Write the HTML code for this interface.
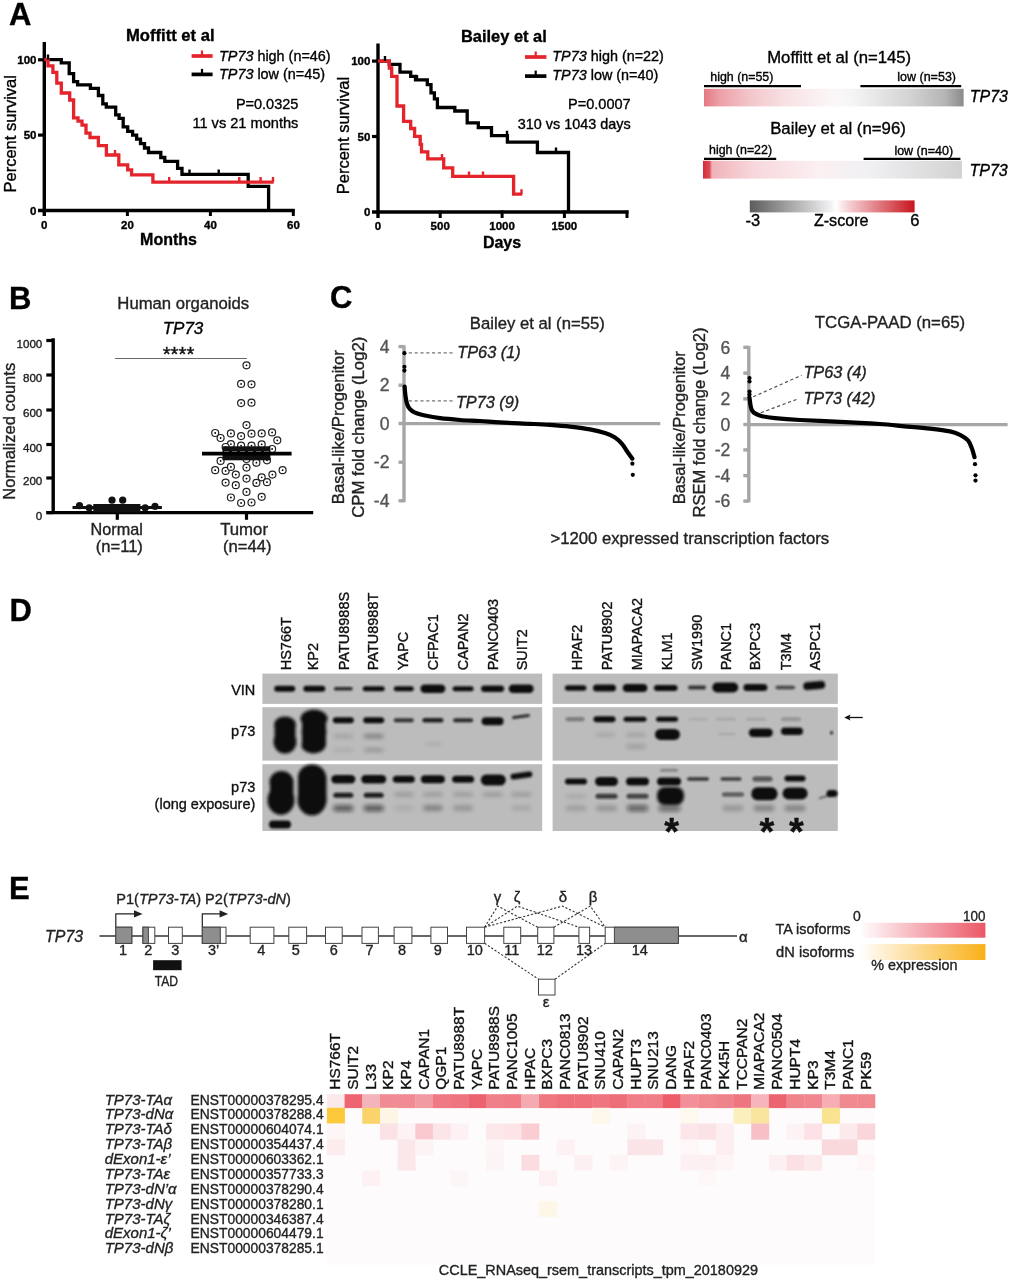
<!DOCTYPE html>
<html><head><meta charset="utf-8"><style>
html,body{margin:0;padding:0;background:#fff;}
svg{display:block;}
text{stroke-width:0.35px;}
</style></head><body>
<svg width="1011" height="1280" viewBox="0 0 1011 1280" style="font-family:'Liberation Sans',Arial,sans-serif">
<rect width="1011" height="1280" fill="#fff"/>
<text x="9" y="24.5" font-size="31" font-weight="bold" stroke="#000">A</text>
<path d="M44.3,42V216M38,210.5H294.5" stroke="#000" stroke-width="3.4" fill="none"/>
<path d="M38,59.8H44.3" stroke="#000" stroke-width="3.2"/>
<path d="M38,135.1H44.3" stroke="#000" stroke-width="3.2"/>
<path d="M127.4,209V216" stroke="#000" stroke-width="3"/>
<path d="M210.4,209V216" stroke="#000" stroke-width="3"/>
<path d="M293.3,209V216" stroke="#000" stroke-width="3"/>
<text x="36.5" y="64" font-size="11.5" text-anchor="end" font-weight="bold" stroke="#000">100</text>
<text x="36.5" y="139.3" font-size="11.5" text-anchor="end" font-weight="bold" stroke="#000">50</text>
<text x="36.5" y="214.7" font-size="11.5" text-anchor="end" font-weight="bold" stroke="#000">0</text>
<text x="44.3" y="228.6" font-size="11.5" text-anchor="middle" font-weight="bold" stroke="#000">0</text>
<text x="127.4" y="228.6" font-size="11.5" text-anchor="middle" font-weight="bold" stroke="#000">20</text>
<text x="210.4" y="228.6" font-size="11.5" text-anchor="middle" font-weight="bold" stroke="#000">40</text>
<text x="293.5" y="228.6" font-size="11.5" text-anchor="middle" font-weight="bold" stroke="#000">60</text>
<text x="168.5" y="245" font-size="16" text-anchor="middle" font-weight="bold" stroke="#000">Months</text>
<text transform="translate(15.6,133.8) rotate(-90)" font-size="16.5" text-anchor="middle" stroke="#000">Percent survival</text>
<text x="126" y="40.8" font-size="16.5" font-weight="bold" textLength="88.6" lengthAdjust="spacingAndGlyphs" stroke="#000">Moffitt et al</text>
<path d="M191.6,56H212.6" stroke="#e4232b" stroke-width="3.7"/><path d="M202,56V50.5" stroke="#e4232b" stroke-width="2.2"/>
<path d="M191.6,74.4H212.6" stroke="#000" stroke-width="3.7"/><path d="M202,74.4V68.9" stroke="#000" stroke-width="2.2"/>
<text x="219" y="60.6" font-size="14.4" stroke="#000"><tspan font-style="italic">TP73</tspan> high (n=46)</text>
<text x="219" y="79.2" font-size="14.4" stroke="#000"><tspan font-style="italic">TP73</tspan> low (n=45)</text>
<text x="298.4" y="108.6" font-size="14.5" text-anchor="end" stroke="#000">P=0.0325</text>
<text x="298.4" y="127.8" font-size="14.6" text-anchor="end" stroke="#000">11 vs 21 months</text>
<path d="M44.3,59.6H61.3V62.9H69.2V73.7H73.6V81.6H77.6V84.8H90.4V88.4H98.4V95.5H102.8V103.9H106.3V107.2H115.7V114.8H119.1V118.3H123.2V126.8H127.7V131.3H132.6V135.2H136.6V139.2H140.5V143.6H144.5V148H148.5V152.5H160.8V157.5H164.8V161.4H177.6V168.4H182V174.4H248.2V186.3H268.6V210.5" stroke="#000" stroke-width="3.3" fill="none"/>
<path d="M44.3,59.6H48V65.8H52.9V72.3H56.8V83.1H61.3V93H69.7V100H73.6V117.8H78V121.2H82V125.2H86V133.1H90V137.5H98.4V145.6H106.4V155H118.8V164.9H127.7V169.8H131.6V174.8H152.9V182.1H273.7" stroke="#e4232b" stroke-width="3.3" fill="none"/>
<path d="M48,59.6v-5M189.5,174.4v-5M218.7,174.4v-5" stroke="#000" stroke-width="2.4"/>
<path d="M115,155v-5M169.2,182.1v-5M239.3,182.1v-5M260.6,182.1v-5M273,182.1v-5" stroke="#e4232b" stroke-width="2.4"/>
<path d="M378,43.6V218M372,212H628.5" stroke="#000" stroke-width="3.4" fill="none"/>
<path d="M372,61.1H378" stroke="#000" stroke-width="3.2"/>
<path d="M372,136.5H378" stroke="#000" stroke-width="3.2"/>
<path d="M440.2,210.5V218" stroke="#000" stroke-width="3"/>
<path d="M502.1,210.5V218" stroke="#000" stroke-width="3"/>
<path d="M564.4,210.5V218" stroke="#000" stroke-width="3"/>
<path d="M627,210.5V218" stroke="#000" stroke-width="3"/>
<text x="370.4" y="65.3" font-size="11.5" text-anchor="end" font-weight="bold" stroke="#000">100</text>
<text x="370.4" y="140.7" font-size="11.5" text-anchor="end" font-weight="bold" stroke="#000">50</text>
<text x="370.4" y="216.2" font-size="11.5" text-anchor="end" font-weight="bold" stroke="#000">0</text>
<text x="378" y="229.6" font-size="11.5" text-anchor="middle" font-weight="bold" stroke="#000">0</text>
<text x="440.2" y="229.6" font-size="11.5" text-anchor="middle" font-weight="bold" stroke="#000">500</text>
<text x="502.1" y="229.6" font-size="11.5" text-anchor="middle" font-weight="bold" stroke="#000">1000</text>
<text x="564.4" y="229.6" font-size="11.5" text-anchor="middle" font-weight="bold" stroke="#000">1500</text>
<text x="502" y="247.5" font-size="16" text-anchor="middle" font-weight="bold" stroke="#000">Days</text>
<text transform="translate(348.5,135.6) rotate(-90)" font-size="16.5" text-anchor="middle" stroke="#000">Percent survival</text>
<text x="460.9" y="41.8" font-size="16.5" font-weight="bold" textLength="85.9" lengthAdjust="spacingAndGlyphs" stroke="#000">Bailey et al</text>
<path d="M525,57H546.4" stroke="#e4232b" stroke-width="3.7"/><path d="M535.7,57V51.5" stroke="#e4232b" stroke-width="2.2"/>
<path d="M525,76.1H546.4" stroke="#000" stroke-width="3.7"/><path d="M535.7,76.1V70.6" stroke="#000" stroke-width="2.2"/>
<text x="552.3" y="61.3" font-size="14.4" stroke="#000"><tspan font-style="italic">TP73</tspan> high (n=22)</text>
<text x="552.3" y="80.3" font-size="14.4" stroke="#000"><tspan font-style="italic">TP73</tspan> low (n=40)</text>
<text x="630.6" y="109.2" font-size="14.5" text-anchor="end" stroke="#000">P=0.0007</text>
<text x="630.6" y="128.6" font-size="14.4" text-anchor="end" stroke="#000">310 vs 1043 days</text>
<path d="M378,61.1H389.3V64.4H400V72.1H410.7V76.3H415.5V79.9H427.3V84.6H431V92.9H434.4V98.8H437.4V107.5H454.8V111H467.2V122.9H478.3V127.7H491.5V135.7H507.4V142.2H537.4V152.5H568.5V212" stroke="#000" stroke-width="3.3" fill="none"/>
<path d="M378,61.1H389.3V68H391.7V76.3H397V106H403.6V121.4H410.7V128.5H414.6V136.3H420.2V144.3H421.5V151.9H427.8V158.9H443.7V167.9H452.7V176.4H513.6V194.2H522.2" stroke="#e4232b" stroke-width="3.3" fill="none"/>
<path d="M385,61.1v-5M417,79.9v-5M507,135.7v-5M556,152.5v-5" stroke="#000" stroke-width="2.4"/>
<path d="M442,158.9v-5M469,176.4v-5M483,176.4v-5M521.5,194.2v-5" stroke="#e4232b" stroke-width="2.4"/>
<defs><linearGradient id="g1" x1="0" x2="1"><stop offset="0" stop-color="#e47882"/><stop offset="0.06" stop-color="#eca0a8"/><stop offset="0.18" stop-color="#f3c6cb"/><stop offset="0.32" stop-color="#f8e2e5"/><stop offset="0.5" stop-color="#fbf7f8"/><stop offset="0.56" stop-color="#f6f6f7"/><stop offset="0.65" stop-color="#e9e9ea"/><stop offset="0.8" stop-color="#d2d2d2"/><stop offset="0.93" stop-color="#b4b4b4"/><stop offset="1" stop-color="#8a8a8a"/></linearGradient><linearGradient id="g2" x1="0" x2="1"><stop offset="0" stop-color="#d42d3a"/><stop offset="0.025" stop-color="#dc4a55"/><stop offset="0.035" stop-color="#f0b3b9"/><stop offset="0.2" stop-color="#f7d8dc"/><stop offset="0.45" stop-color="#fbf0f2"/><stop offset="0.65" stop-color="#f0f0f3"/><stop offset="1" stop-color="#d2d2d2"/></linearGradient><linearGradient id="g3" x1="0" x2="1"><stop offset="0" stop-color="#5c5c5c"/><stop offset="0.5" stop-color="#f4f4f6"/><stop offset="0.52" stop-color="#ffffff"/><stop offset="0.6" stop-color="#f5d0d3"/><stop offset="1" stop-color="#c8141e"/></linearGradient></defs>
<text x="839.2" y="63.3" font-size="16.7" text-anchor="middle" stroke="#000">Moffitt et al (n=145)</text>
<text x="710.3" y="80.6" font-size="12.4" stroke="#000">high (n=55)</text>
<text x="956" y="80.6" font-size="12.5" text-anchor="end" stroke="#000">low (n=53)</text>
<path d="M704,86.1H801M860.4,86.1H961.2" stroke="#000" stroke-width="2.2"/>
<rect x="704" y="88.8" width="259.6" height="17.6" fill="url(#g1)"/>
<text x="969.8" y="101.9" font-size="16" font-style="italic" textLength="38.2" lengthAdjust="spacingAndGlyphs" stroke="#000">TP73</text>
<text x="838" y="134" font-size="16.8" text-anchor="middle" stroke="#000">Bailey et al (n=96)</text>
<text x="709" y="153.6" font-size="12.4" stroke="#000">high (n=22)</text>
<text x="953.1" y="155.4" font-size="12.5" text-anchor="end" stroke="#000">low (n=40)</text>
<path d="M704,158.8H776.2M863.6,158.8H960.4" stroke="#000" stroke-width="2.2"/>
<rect x="703" y="160.8" width="259" height="17.8" fill="url(#g2)"/>
<text x="969.4" y="175.8" font-size="16" font-style="italic" textLength="38.4" lengthAdjust="spacingAndGlyphs" stroke="#000">TP73</text>
<rect x="749.8" y="200.4" width="164.8" height="12" fill="url(#g3)"/>
<text x="745.5" y="225.8" font-size="16.5" stroke="#000">-3</text>
<text x="841.2" y="225.8" font-size="16.1" text-anchor="middle" stroke="#000">Z-score</text>
<text x="919.5" y="225.8" font-size="16.5" text-anchor="end" stroke="#000">6</text>
<text x="9" y="308.5" font-size="31" font-weight="bold" stroke="#000">B</text>
<text x="183.2" y="308.6" font-size="16.7" text-anchor="middle" fill="#222" stroke="#222">Human organoids</text>
<text x="183" y="333.8" font-size="17" text-anchor="middle" font-style="italic" textLength="40.7" lengthAdjust="spacingAndGlyphs" stroke="#000">TP73</text>
<path d="M53.2,338.2V514.3M46.5,512.6H313.2" stroke="#000" stroke-width="3.4" fill="none"/>
<path d="M46.3,340.5H53" stroke="#000" stroke-width="3.2"/>
<text x="42.3" y="347.5" font-size="11.6" text-anchor="end" fill="#222" stroke="#222">1000</text>
<path d="M46.3,375H53" stroke="#000" stroke-width="3.2"/>
<text x="42.3" y="382" font-size="11.6" text-anchor="end" fill="#222" stroke="#222">800</text>
<path d="M46.3,410H53" stroke="#000" stroke-width="3.2"/>
<text x="42.3" y="417" font-size="11.6" text-anchor="end" fill="#222" stroke="#222">600</text>
<path d="M46.3,444.5H53" stroke="#000" stroke-width="3.2"/>
<text x="42.3" y="451.5" font-size="11.6" text-anchor="end" fill="#222" stroke="#222">400</text>
<path d="M46.3,478H53" stroke="#000" stroke-width="3.2"/>
<text x="42.3" y="485" font-size="11.6" text-anchor="end" fill="#222" stroke="#222">200</text>
<path d="M46.3,512.6H53" stroke="#000" stroke-width="3.2"/>
<text x="42.3" y="519.6" font-size="11.6" text-anchor="end" fill="#222" stroke="#222">0</text>
<path d="M117.3,512V519.8" stroke="#000" stroke-width="3.2"/>
<path d="M246.5,512V519.8" stroke="#000" stroke-width="3.2"/>
<text transform="translate(14.8,431.3) rotate(-90)" font-size="16.3" text-anchor="middle" fill="#222" textLength="137" lengthAdjust="spacingAndGlyphs" stroke="#222">Normalized counts</text>
<text x="116.7" y="535" font-size="16.2" text-anchor="middle" fill="#222" stroke="#222">Normal</text>
<text x="119.3" y="552" font-size="16.6" text-anchor="middle" fill="#222" stroke="#222">(n=11)</text>
<text x="244.1" y="535" font-size="16.8" text-anchor="middle" fill="#222" stroke="#222">Tumor</text>
<text x="247.3" y="552.2" font-size="16.6" text-anchor="middle" fill="#222" stroke="#222">(n=44)</text>
<path d="M115.1,358.5H246.9" stroke="#666" stroke-width="1"/>
<text x="178.5" y="361" font-size="20.4" text-anchor="middle" fill="#111" stroke="#111">****</text>
<circle cx="246.5" cy="365.3" r="3.5" fill="#fff" stroke="#222" stroke-width="1.2"/><circle cx="246.5" cy="365.3" r="0.9" fill="#000"/>
<circle cx="241.1" cy="383.9" r="3.5" fill="#fff" stroke="#222" stroke-width="1.2"/><circle cx="241.1" cy="383.9" r="0.9" fill="#000"/>
<circle cx="251.5" cy="384.3" r="3.5" fill="#fff" stroke="#222" stroke-width="1.2"/><circle cx="251.5" cy="384.3" r="0.9" fill="#000"/>
<circle cx="241.1" cy="403.1" r="3.5" fill="#fff" stroke="#222" stroke-width="1.2"/><circle cx="241.1" cy="403.1" r="0.9" fill="#000"/>
<circle cx="251.5" cy="402.7" r="3.5" fill="#fff" stroke="#222" stroke-width="1.2"/><circle cx="251.5" cy="402.7" r="0.9" fill="#000"/>
<circle cx="246.5" cy="425.1" r="3.5" fill="#fff" stroke="#222" stroke-width="1.2"/><circle cx="246.5" cy="425.1" r="0.9" fill="#000"/>
<circle cx="215.2" cy="433" r="3.5" fill="#fff" stroke="#222" stroke-width="1.2"/><circle cx="215.2" cy="433" r="0.9" fill="#000"/>
<circle cx="220.6" cy="438" r="3.5" fill="#fff" stroke="#222" stroke-width="1.2"/><circle cx="220.6" cy="438" r="0.9" fill="#000"/>
<circle cx="230.9" cy="433.4" r="3.5" fill="#fff" stroke="#222" stroke-width="1.2"/><circle cx="230.9" cy="433.4" r="0.9" fill="#000"/>
<circle cx="241.1" cy="436.1" r="3.5" fill="#fff" stroke="#222" stroke-width="1.2"/><circle cx="241.1" cy="436.1" r="0.9" fill="#000"/>
<circle cx="251.5" cy="433.7" r="3.5" fill="#fff" stroke="#222" stroke-width="1.2"/><circle cx="251.5" cy="433.7" r="0.9" fill="#000"/>
<circle cx="261.7" cy="433.4" r="3.5" fill="#fff" stroke="#222" stroke-width="1.2"/><circle cx="261.7" cy="433.4" r="0.9" fill="#000"/>
<circle cx="272.1" cy="432.4" r="3.5" fill="#fff" stroke="#222" stroke-width="1.2"/><circle cx="272.1" cy="432.4" r="0.9" fill="#000"/>
<circle cx="277.3" cy="440.3" r="3.5" fill="#fff" stroke="#222" stroke-width="1.2"/><circle cx="277.3" cy="440.3" r="0.9" fill="#000"/>
<circle cx="230.9" cy="444.1" r="3.5" fill="#fff" stroke="#222" stroke-width="1.2"/><circle cx="230.9" cy="444.1" r="0.9" fill="#000"/>
<circle cx="241.1" cy="445.7" r="3.5" fill="#fff" stroke="#222" stroke-width="1.2"/><circle cx="241.1" cy="445.7" r="0.9" fill="#000"/>
<circle cx="251.5" cy="445.7" r="3.5" fill="#fff" stroke="#222" stroke-width="1.2"/><circle cx="251.5" cy="445.7" r="0.9" fill="#000"/>
<circle cx="261.7" cy="444.3" r="3.5" fill="#fff" stroke="#222" stroke-width="1.2"/><circle cx="261.7" cy="444.3" r="0.9" fill="#000"/>
<circle cx="272.1" cy="449" r="3.5" fill="#fff" stroke="#222" stroke-width="1.2"/><circle cx="272.1" cy="449" r="0.9" fill="#000"/>
<circle cx="225.6" cy="447" r="3.5" fill="#fff" stroke="#222" stroke-width="1.2"/><circle cx="225.6" cy="447" r="0.9" fill="#000"/>
<circle cx="220.6" cy="460.9" r="3.5" fill="#fff" stroke="#222" stroke-width="1.2"/><circle cx="220.6" cy="460.9" r="0.9" fill="#000"/>
<circle cx="267" cy="460.3" r="3.5" fill="#fff" stroke="#222" stroke-width="1.2"/><circle cx="267" cy="460.3" r="0.9" fill="#000"/>
<circle cx="256.4" cy="462.7" r="3.5" fill="#fff" stroke="#222" stroke-width="1.2"/><circle cx="256.4" cy="462.7" r="0.9" fill="#000"/>
<circle cx="246.5" cy="459" r="3.5" fill="#fff" stroke="#222" stroke-width="1.2"/><circle cx="246.5" cy="459" r="0.9" fill="#000"/>
<circle cx="215.2" cy="470.2" r="3.5" fill="#fff" stroke="#222" stroke-width="1.2"/><circle cx="215.2" cy="470.2" r="0.9" fill="#000"/>
<circle cx="225.6" cy="470.9" r="3.5" fill="#fff" stroke="#222" stroke-width="1.2"/><circle cx="225.6" cy="470.9" r="0.9" fill="#000"/>
<circle cx="230.9" cy="466.9" r="3.5" fill="#fff" stroke="#222" stroke-width="1.2"/><circle cx="230.9" cy="466.9" r="0.9" fill="#000"/>
<circle cx="246.5" cy="467.6" r="3.5" fill="#fff" stroke="#222" stroke-width="1.2"/><circle cx="246.5" cy="467.6" r="0.9" fill="#000"/>
<circle cx="282.6" cy="470.2" r="3.5" fill="#fff" stroke="#222" stroke-width="1.2"/><circle cx="282.6" cy="470.2" r="0.9" fill="#000"/>
<circle cx="235.8" cy="474.6" r="3.5" fill="#fff" stroke="#222" stroke-width="1.2"/><circle cx="235.8" cy="474.6" r="0.9" fill="#000"/>
<circle cx="272.4" cy="474.6" r="3.5" fill="#fff" stroke="#222" stroke-width="1.2"/><circle cx="272.4" cy="474.6" r="0.9" fill="#000"/>
<circle cx="246.5" cy="478.6" r="3.5" fill="#fff" stroke="#222" stroke-width="1.2"/><circle cx="246.5" cy="478.6" r="0.9" fill="#000"/>
<circle cx="261.7" cy="477.3" r="3.5" fill="#fff" stroke="#222" stroke-width="1.2"/><circle cx="261.7" cy="477.3" r="0.9" fill="#000"/>
<circle cx="225.6" cy="482.6" r="3.5" fill="#fff" stroke="#222" stroke-width="1.2"/><circle cx="225.6" cy="482.6" r="0.9" fill="#000"/>
<circle cx="235.8" cy="485.2" r="3.5" fill="#fff" stroke="#222" stroke-width="1.2"/><circle cx="235.8" cy="485.2" r="0.9" fill="#000"/>
<circle cx="256.4" cy="482.9" r="3.5" fill="#fff" stroke="#222" stroke-width="1.2"/><circle cx="256.4" cy="482.9" r="0.9" fill="#000"/>
<circle cx="267" cy="482.2" r="3.5" fill="#fff" stroke="#222" stroke-width="1.2"/><circle cx="267" cy="482.2" r="0.9" fill="#000"/>
<circle cx="246.5" cy="491.9" r="3.5" fill="#fff" stroke="#222" stroke-width="1.2"/><circle cx="246.5" cy="491.9" r="0.9" fill="#000"/>
<circle cx="230.9" cy="497.5" r="3.5" fill="#fff" stroke="#222" stroke-width="1.2"/><circle cx="230.9" cy="497.5" r="0.9" fill="#000"/>
<circle cx="261.7" cy="496.8" r="3.5" fill="#fff" stroke="#222" stroke-width="1.2"/><circle cx="261.7" cy="496.8" r="0.9" fill="#000"/>
<circle cx="241.1" cy="503" r="3.5" fill="#fff" stroke="#222" stroke-width="1.2"/><circle cx="241.1" cy="503" r="0.9" fill="#000"/>
<circle cx="251.5" cy="502.5" r="3.5" fill="#fff" stroke="#222" stroke-width="1.2"/><circle cx="251.5" cy="502.5" r="0.9" fill="#000"/>
<rect x="222.5" y="446.3" width="47.9" height="14" fill="#111"/>
<path d="M224,451.6H269" stroke="#aaa" stroke-width="0.8" stroke-dasharray="5,3"/>
<path d="M202,453.6H291.6" stroke="#000" stroke-width="3.6"/>
<circle cx="79.5" cy="505.7" r="3.6" fill="#111"/>
<circle cx="89.2" cy="507.8" r="3.6" fill="#111"/>
<circle cx="112" cy="500.2" r="3.6" fill="#111"/>
<circle cx="122.7" cy="500.2" r="3.6" fill="#111"/>
<circle cx="145.2" cy="507.8" r="3.6" fill="#111"/>
<circle cx="155" cy="506.4" r="3.6" fill="#111"/>
<rect x="93.3" y="504" width="47.1" height="8.6" fill="#111"/>
<path d="M72.5,507.5H161.9" stroke="#111" stroke-width="3.2"/>
<text x="330" y="307.5" font-size="31" font-weight="bold" stroke="#000">C</text>
<text x="537.3" y="328.5" font-size="16.7" text-anchor="middle" fill="#222" stroke="#222">Bailey et al (n=55)</text>
<path d="M404,345.2V502.2" stroke="#a6a6a6" stroke-width="3.4"/>
<path d="M398.5,346.6H404" stroke="#a6a6a6" stroke-width="3.4"/>
<text x="389.5" y="352.8" font-size="17.6" text-anchor="end" fill="#555" stroke="#555">4</text>
<path d="M398.5,385.2H404" stroke="#a6a6a6" stroke-width="3.4"/>
<text x="389.5" y="391.4" font-size="17.6" text-anchor="end" fill="#555" stroke="#555">2</text>
<path d="M398.5,423.5H404" stroke="#a6a6a6" stroke-width="3.4"/>
<text x="389.5" y="429.7" font-size="17.6" text-anchor="end" fill="#555" stroke="#555">0</text>
<path d="M398.5,462.2H404" stroke="#a6a6a6" stroke-width="3.4"/>
<text x="389.5" y="468.4" font-size="17.6" text-anchor="end" fill="#555" stroke="#555">-2</text>
<path d="M398.5,500.8H404" stroke="#a6a6a6" stroke-width="3.4"/>
<text x="389.5" y="507.0" font-size="17.6" text-anchor="end" fill="#555" stroke="#555">-4</text>
<path d="M404,423.6H660.3" stroke="#a6a6a6" stroke-width="3.4"/>
<text transform="translate(344.2,427.2) rotate(-90)" font-size="16" text-anchor="middle" fill="#222" textLength="154" lengthAdjust="spacingAndGlyphs" stroke="#222">Basal-like/Progenitor</text>
<text transform="translate(364.3,427.2) rotate(-90)" font-size="16" text-anchor="middle" fill="#222" textLength="181" lengthAdjust="spacingAndGlyphs" stroke="#222">CPM fold change (Log2)</text>
<path d="M408.8,352.9H453.2M408.8,400.9H453.2" stroke="#777" stroke-width="1.2" stroke-dasharray="3.2,2.6"/>
<text x="457.3" y="358.4" font-size="16.3" font-style="italic" fill="#222" stroke="#222">TP63 (1)</text>
<text x="455.9" y="407.6" font-size="16.3" font-style="italic" fill="#222" stroke="#222">TP73 (9)</text>
<path d="M404.6,386.5C404.7,388.0 405.0,392.5 405.4,395.4C405.8,398.3 406.2,401.4 407,403.7C407.8,406.0 408.7,407.7 410,409.2C411.3,410.7 412.5,411.6 415,412.7C417.5,413.8 420.8,414.6 425,415.5C429.2,416.4 434.2,417.4 440,418.2C445.8,418.9 453.3,419.5 460,420C466.7,420.5 473.3,420.6 480,421C486.7,421.4 491.7,421.9 500,422.4C508.3,422.9 521.7,423.4 530,423.8C538.3,424.2 543.3,424.4 550,424.9C556.7,425.4 563.3,425.9 570,426.6C576.7,427.4 584.2,428.3 590,429.4C595.8,430.5 600.8,431.7 605,433C609.2,434.3 612.2,435.6 615,437.4C617.8,439.2 620.1,441.6 622,443.8C623.9,446.0 625.2,448.6 626.5,450.5C627.8,452.4 629.0,454.1 630,455.5C631.0,456.9 631.9,458.1 632.3,458.6" stroke="#000" stroke-width="4.2" fill="none" stroke-linecap="round"/>
<circle cx="404.4" cy="353.2" r="2.1" fill="#000"/>
<circle cx="404.4" cy="366.8" r="2.1" fill="#000"/>
<circle cx="404.4" cy="370.6" r="2.1" fill="#000"/>
<circle cx="632.4" cy="463.7" r="2.1" fill="#000"/>
<circle cx="632.8" cy="474.8" r="2.1" fill="#000"/>
<text x="890" y="327.8" font-size="16.8" text-anchor="middle" fill="#222" stroke="#222">TCGA-PAAD (n=65)</text>
<path d="M748.8,346V502.4" stroke="#a6a6a6" stroke-width="3.4"/>
<path d="M743.3,347.3H748.8" stroke="#a6a6a6" stroke-width="3.4"/>
<text x="730.4" y="353.5" font-size="17.6" text-anchor="end" fill="#555" stroke="#555">6</text>
<path d="M743.3,373.1H748.8" stroke="#a6a6a6" stroke-width="3.4"/>
<text x="730.4" y="379.3" font-size="17.6" text-anchor="end" fill="#555" stroke="#555">4</text>
<path d="M743.3,398.9H748.8" stroke="#a6a6a6" stroke-width="3.4"/>
<text x="730.4" y="405.09999999999997" font-size="17.6" text-anchor="end" fill="#555" stroke="#555">2</text>
<path d="M743.3,424.5H748.8" stroke="#a6a6a6" stroke-width="3.4"/>
<text x="730.4" y="430.7" font-size="17.6" text-anchor="end" fill="#555" stroke="#555">0</text>
<path d="M743.3,449.9H748.8" stroke="#a6a6a6" stroke-width="3.4"/>
<text x="730.4" y="456.09999999999997" font-size="17.6" text-anchor="end" fill="#555" stroke="#555">-2</text>
<path d="M743.3,475.6H748.8" stroke="#a6a6a6" stroke-width="3.4"/>
<text x="730.4" y="481.8" font-size="17.6" text-anchor="end" fill="#555" stroke="#555">-4</text>
<path d="M743.3,501.1H748.8" stroke="#a6a6a6" stroke-width="3.4"/>
<text x="730.4" y="507.3" font-size="17.6" text-anchor="end" fill="#555" stroke="#555">-6</text>
<path d="M748.8,424.6H1007.6" stroke="#a6a6a6" stroke-width="3.4"/>
<text transform="translate(685.2,427.8) rotate(-90)" font-size="16" text-anchor="middle" fill="#222" textLength="153" lengthAdjust="spacingAndGlyphs" stroke="#222">Basal-like/Progenitor</text>
<text transform="translate(705.2,422.5) rotate(-90)" font-size="16" text-anchor="middle" fill="#222" textLength="190" lengthAdjust="spacingAndGlyphs" stroke="#222">RSEM fold change (Log2)</text>
<path d="M753.2,396.8L801.6,375.3M760.8,412.7L798.2,398.9" stroke="#555" stroke-width="1.2" stroke-dasharray="3.2,2.6"/>
<text x="803.4" y="378.1" font-size="16.3" font-style="italic" fill="#222" stroke="#222">TP63 (4)</text>
<text x="803.4" y="403.9" font-size="16.2" font-style="italic" fill="#222" stroke="#222">TP73 (42)</text>
<path d="M749.5,397.5C749.7,398.8 750.1,403.0 750.5,405.1C750.9,407.2 751.2,409.0 752,410.4C752.8,411.8 753.3,412.4 755,413.4C756.7,414.4 758.7,415.4 762,416.2C765.3,417.0 768.7,417.6 775,418.2C781.3,418.8 790.8,419.5 800,420C809.2,420.5 820.0,420.9 830,421.4C840.0,421.9 851.7,422.4 860,422.8C868.3,423.2 873.3,423.5 880,424C886.7,424.5 891.7,425.0 900,425.8C908.3,426.6 921.7,427.7 930,428.6C938.3,429.5 945.0,430.3 950,431.4C955.0,432.4 957.0,433.4 960,434.9C963.0,436.4 966.0,438.1 968,440.4C970.0,442.7 970.9,446.0 972,448.8C973.1,451.6 974.1,455.8 974.5,457.2" stroke="#000" stroke-width="4.2" fill="none" stroke-linecap="round"/>
<circle cx="749.5" cy="378.1" r="2.1" fill="#000"/>
<circle cx="749.5" cy="381.5" r="2.1" fill="#000"/>
<circle cx="749.5" cy="391.5" r="2.1" fill="#000"/>
<circle cx="749.5" cy="394.5" r="2.1" fill="#000"/>
<circle cx="975" cy="464.2" r="2.1" fill="#000"/>
<circle cx="975.5" cy="475.3" r="2.1" fill="#000"/>
<circle cx="975.5" cy="480.6" r="2.1" fill="#000"/>
<text x="689.8" y="544.4" font-size="16.7" text-anchor="middle" fill="#222" stroke="#222">&gt;1200 expressed transcription factors</text>
<defs><filter id="b1" x="-30%" y="-100%" width="160%" height="300%"><feGaussianBlur stdDeviation="1.3"/></filter><filter id="b2" x="-30%" y="-30%" width="160%" height="160%"><feGaussianBlur stdDeviation="1.8"/></filter><filter id="b3" x="-30%" y="-100%" width="160%" height="300%"><feGaussianBlur stdDeviation="2.2"/></filter></defs>
<text x="9.5" y="620.6" font-size="31" font-weight="bold" stroke="#000">D</text>
<text transform="translate(291,670.3) rotate(-90)" font-size="14.5" fill="#111" stroke="#111">HS766T</text>
<text transform="translate(318.3,670.3) rotate(-90)" font-size="14.5" fill="#111" stroke="#111">KP2</text>
<text transform="translate(349,670.3) rotate(-90)" font-size="14.5" fill="#111" stroke="#111">PATU8988S</text>
<text transform="translate(378.1,670.3) rotate(-90)" font-size="14.5" fill="#111" stroke="#111">PATU8988T</text>
<text transform="translate(408.2,670.3) rotate(-90)" font-size="14.5" fill="#111" stroke="#111">YAPC</text>
<text transform="translate(437.9,670.3) rotate(-90)" font-size="14.5" fill="#111" stroke="#111">CFPAC1</text>
<text transform="translate(467.7,670.3) rotate(-90)" font-size="14.5" fill="#111" stroke="#111">CAPAN2</text>
<text transform="translate(497.7,670.3) rotate(-90)" font-size="14.5" fill="#111" stroke="#111">PANC0403</text>
<text transform="translate(526.9,670.3) rotate(-90)" font-size="14.5" fill="#111" stroke="#111">SUIT2</text>
<text transform="translate(582.4,670.3) rotate(-90)" font-size="14.5" fill="#111" stroke="#111">HPAF2</text>
<text transform="translate(611.8,670.3) rotate(-90)" font-size="14.5" fill="#111" stroke="#111">PATU8902</text>
<text transform="translate(641.8,670.3) rotate(-90)" font-size="14.5" fill="#111" stroke="#111">MIAPACA2</text>
<text transform="translate(672.2,670.3) rotate(-90)" font-size="14.5" fill="#111" stroke="#111">KLM1</text>
<text transform="translate(701.6,670.3) rotate(-90)" font-size="14.5" fill="#111" stroke="#111">SW1990</text>
<text transform="translate(730.9,670.3) rotate(-90)" font-size="14.5" fill="#111" stroke="#111">PANC1</text>
<text transform="translate(760.3,670.3) rotate(-90)" font-size="14.5" fill="#111" stroke="#111">BXPC3</text>
<text transform="translate(790.7,670.3) rotate(-90)" font-size="14.5" fill="#111" stroke="#111">T3M4</text>
<text transform="translate(820,670.3) rotate(-90)" font-size="14.5" fill="#111" stroke="#111">ASPC1</text>
<text x="255.3" y="694.6" font-size="14.5" text-anchor="end" fill="#111" stroke="#111">VIN</text>
<text x="255.3" y="736" font-size="14.5" text-anchor="end" fill="#111" stroke="#111">p73</text>
<text x="255.3" y="791.9" font-size="14.5" text-anchor="end" fill="#111" stroke="#111">p73</text>
<text x="255.3" y="809.4" font-size="14.5" text-anchor="end" fill="#111" textLength="100.7" lengthAdjust="spacingAndGlyphs" stroke="#111">(long exposure)</text>
<rect x="262.4" y="673.6" width="279.8" height="30.3" fill="#bcbcbc"/>
<rect x="262.4" y="707.2" width="279.8" height="53.4" fill="#bcbcbc"/>
<rect x="262.4" y="764.2" width="279.8" height="66.8" fill="#bcbcbc"/>
<rect x="552.6" y="673.6" width="285.2" height="30.3" fill="#bcbcbc"/>
<rect x="552.6" y="707.2" width="285.2" height="53.4" fill="#bcbcbc"/>
<rect x="552.6" y="764.2" width="285.2" height="66.8" fill="#bcbcbc"/>
<rect x="274.2" y="685.8" width="21.0" height="6.0" rx="3.0" fill="#111" fill-opacity="1" filter="url(#b1)"/>
<rect x="303.3" y="685.8" width="22.0" height="6.0" rx="3.0" fill="#111" fill-opacity="1" filter="url(#b1)"/>
<rect x="333.8" y="687.0" width="19.0" height="3.5" rx="1.8" fill="#111" fill-opacity="0.85" filter="url(#b1)"/>
<rect x="362.7" y="686.3" width="22.0" height="5.0" rx="2.5" fill="#111" fill-opacity="1" filter="url(#b1)"/>
<rect x="393.8" y="686.3" width="20.0" height="5.0" rx="2.5" fill="#111" fill-opacity="1" filter="url(#b1)"/>
<rect x="420.4" y="684.5" width="25.0" height="8.5" rx="4.2" fill="#111" fill-opacity="1" filter="url(#b1)"/>
<rect x="452.6" y="686.3" width="21.0" height="5.0" rx="2.5" fill="#111" fill-opacity="1" filter="url(#b1)"/>
<rect x="481.1" y="685.5" width="23.0" height="6.5" rx="3.2" fill="#111" fill-opacity="1" filter="url(#b1)"/>
<rect x="508.7" y="684.5" width="25.0" height="8.5" rx="4.2" fill="#111" fill-opacity="1" filter="url(#b1)"/>
<g filter="url(#b2)" fill="#111"><ellipse cx="285" cy="724.5" rx="11" ry="8"/><ellipse cx="285" cy="742" rx="11.5" ry="11.5"/><ellipse cx="314" cy="718.5" rx="13.5" ry="9"/><ellipse cx="314" cy="732" rx="12.5" ry="9"/><ellipse cx="313.5" cy="745" rx="12" ry="8.5"/><rect x="274.5" y="725" width="21" height="17"/><rect x="302" y="718" width="24" height="28"/></g>
<rect x="332.8" y="717.2" width="21.0" height="6.0" rx="3.0" fill="#111" fill-opacity="1" filter="url(#b1)"/>
<rect x="363.2" y="717.2" width="21.0" height="6.0" rx="3.0" fill="#111" fill-opacity="1" filter="url(#b1)"/>
<rect x="393.8" y="718.2" width="20.0" height="4.0" rx="2.0" fill="#111" fill-opacity="0.8" filter="url(#b1)"/>
<rect x="422.4" y="718.0" width="21.0" height="4.5" rx="2.2" fill="#111" fill-opacity="0.9" filter="url(#b1)"/>
<rect x="453.1" y="718.2" width="20.0" height="4.0" rx="2.0" fill="#111" fill-opacity="0.85" filter="url(#b1)"/>
<rect x="481.6" y="717.3" width="22.0" height="8.0" rx="4.0" fill="#111" fill-opacity="1" filter="url(#b1)"/>
<rect x="512.0" y="714.9" width="18.0" height="3.2" rx="1.6" fill="#111" fill-opacity="0.85" filter="url(#b1)" transform="rotate(-8,521,716.5)"/>
<rect x="333.3" y="734.2" width="20.0" height="4.0" rx="2.0" fill="#111" fill-opacity="0.15" filter="url(#b3)"/>
<rect x="333.3" y="748.0" width="20.0" height="4.0" rx="2.0" fill="#111" fill-opacity="0.09" filter="url(#b3)"/>
<rect x="363.7" y="734.2" width="20.0" height="4.0" rx="2.0" fill="#111" fill-opacity="0.35" filter="url(#b3)"/>
<rect x="363.7" y="748.0" width="20.0" height="4.0" rx="2.0" fill="#111" fill-opacity="0.21" filter="url(#b3)"/>
<rect x="423.9" y="742.0" width="18.0" height="4.0" rx="2.0" fill="#111" fill-opacity="0.08" filter="url(#b3)"/>
<g filter="url(#b2)" fill="#111"><ellipse cx="281.5" cy="782" rx="12" ry="11"/><ellipse cx="281" cy="800" rx="13.5" ry="15"/><rect x="270" y="780" width="23.5" height="24" rx="5"/><ellipse cx="312" cy="777" rx="14" ry="12.5"/><ellipse cx="312" cy="800" rx="14.5" ry="15.5"/><rect x="298" y="776" width="28.5" height="25"/></g>
<rect x="269.0" y="820.5" width="22.0" height="8.0" rx="4.0" fill="#111" fill-opacity="1" filter="url(#b1)"/>
<rect x="331.3" y="775.0" width="24.0" height="8.5" rx="4.2" fill="#111" fill-opacity="1" filter="url(#b1)"/>
<rect x="333.3" y="792.8" width="20.0" height="5.0" rx="2.5" fill="#111" fill-opacity="0.9" filter="url(#b1)"/>
<rect x="333.3" y="805.2" width="20.0" height="6.0" rx="3.0" fill="#111" fill-opacity="0.6" filter="url(#b3)"/>
<rect x="361.2" y="775.0" width="25.0" height="8.5" rx="4.2" fill="#111" fill-opacity="1" filter="url(#b1)"/>
<rect x="363.7" y="792.8" width="20.0" height="5.0" rx="2.5" fill="#111" fill-opacity="0.9" filter="url(#b1)"/>
<rect x="363.7" y="805.2" width="20.0" height="6.0" rx="3.0" fill="#111" fill-opacity="0.6" filter="url(#b3)"/>
<rect x="392.8" y="775.8" width="22.0" height="7.0" rx="3.5" fill="#111" fill-opacity="1" filter="url(#b1)"/>
<rect x="420.9" y="775.3" width="24.0" height="8.0" rx="4.0" fill="#111" fill-opacity="1" filter="url(#b1)"/>
<rect x="452.1" y="775.8" width="22.0" height="7.0" rx="3.5" fill="#111" fill-opacity="1" filter="url(#b1)"/>
<rect x="480.8" y="774.5" width="25.0" height="11.0" rx="5.5" fill="#111" fill-opacity="1" filter="url(#b1)"/>
<rect x="510.4" y="772.5" width="22.0" height="6.0" rx="3.0" fill="#111" fill-opacity="1" filter="url(#b1)" transform="rotate(-8,521.4,775.5)"/>
<rect x="393.8" y="792.5" width="20.0" height="4.0" rx="2.0" fill="#111" fill-opacity="0.2" filter="url(#b3)"/>
<rect x="422.9" y="792.5" width="20.0" height="4.0" rx="2.0" fill="#111" fill-opacity="0.2" filter="url(#b3)"/>
<rect x="453.1" y="792.5" width="20.0" height="4.0" rx="2.0" fill="#111" fill-opacity="0.2" filter="url(#b3)"/>
<rect x="482.6" y="792.5" width="20.0" height="4.0" rx="2.0" fill="#111" fill-opacity="0.2" filter="url(#b3)"/>
<rect x="511.2" y="792.5" width="20.0" height="4.0" rx="2.0" fill="#111" fill-opacity="0.2" filter="url(#b3)"/>
<rect x="393.8" y="805.0" width="20.0" height="6.0" rx="3.0" fill="#111" fill-opacity="0.08" filter="url(#b3)"/>
<rect x="422.9" y="805.0" width="20.0" height="6.0" rx="3.0" fill="#111" fill-opacity="0.3" filter="url(#b3)"/>
<rect x="453.1" y="805.0" width="20.0" height="6.0" rx="3.0" fill="#111" fill-opacity="0.2" filter="url(#b3)"/>
<rect x="511.2" y="805.0" width="20.0" height="6.0" rx="3.0" fill="#111" fill-opacity="0.1" filter="url(#b3)"/>
<rect x="564.8" y="685.2" width="21.6" height="5.5" rx="2.8" fill="#111" fill-opacity="1" filter="url(#b1)"/>
<rect x="593.0" y="684.5" width="23.0" height="7.0" rx="3.5" fill="#111" fill-opacity="1" filter="url(#b1)"/>
<rect x="622.8" y="684.0" width="24.5" height="8.0" rx="4.0" fill="#111" fill-opacity="1" filter="url(#b1)"/>
<rect x="653.9" y="685.0" width="23.7" height="6.0" rx="3.0" fill="#111" fill-opacity="1" filter="url(#b1)"/>
<rect x="688.0" y="685.5" width="18.0" height="4.0" rx="2.0" fill="#111" fill-opacity="0.8" filter="url(#b1)"/>
<rect x="712.2" y="682.5" width="26.0" height="10.0" rx="5.0" fill="#111" fill-opacity="1" filter="url(#b1)"/>
<rect x="743.4" y="684.0" width="24.0" height="7.0" rx="3.5" fill="#111" fill-opacity="1" filter="url(#b1)"/>
<rect x="775.5" y="685.8" width="19.5" height="3.5" rx="1.8" fill="#111" fill-opacity="0.7" filter="url(#b1)"/>
<rect x="803.2" y="681.5" width="22.0" height="8.0" rx="4.0" fill="#111" fill-opacity="1" filter="url(#b1)" transform="rotate(-5,814.2,685.5)"/>
<rect x="565.5" y="717.2" width="19.0" height="4.0" rx="2.0" fill="#111" fill-opacity="0.4" filter="url(#b1)"/>
<rect x="593.5" y="716.2" width="22.0" height="6.0" rx="3.0" fill="#111" fill-opacity="1" filter="url(#b1)"/>
<rect x="623.5" y="716.7" width="23.0" height="5.0" rx="2.5" fill="#111" fill-opacity="1" filter="url(#b1)"/>
<rect x="656.0" y="716.7" width="22.0" height="5.0" rx="2.5" fill="#111" fill-opacity="1" filter="url(#b1)"/>
<rect x="688.0" y="717.7" width="20.0" height="3.0" rx="1.5" fill="#111" fill-opacity="0.08" filter="url(#b1)"/>
<rect x="716.0" y="717.7" width="20.0" height="3.0" rx="1.5" fill="#111" fill-opacity="0.1" filter="url(#b1)"/>
<rect x="746.0" y="717.7" width="20.0" height="3.0" rx="1.5" fill="#111" fill-opacity="0.12" filter="url(#b1)"/>
<rect x="781.0" y="717.2" width="20.0" height="4.0" rx="2.0" fill="#111" fill-opacity="0.2" filter="url(#b1)"/>
<rect x="655.0" y="728.9" width="25.0" height="11.0" rx="5.5" fill="#111" fill-opacity="1" filter="url(#b1)"/>
<rect x="748.8" y="728.5" width="24.0" height="8.5" rx="4.2" fill="#111" fill-opacity="1" filter="url(#b1)"/>
<rect x="781.0" y="727.5" width="22.0" height="7.5" rx="3.8" fill="#111" fill-opacity="1" filter="url(#b1)"/>
<rect x="830.0" y="731.2" width="3.0" height="3.0" rx="1.0" fill="#111" fill-opacity="0.9" filter="url(#b1)"/>
<rect x="595.0" y="732.7" width="20.0" height="4.0" rx="2.0" fill="#111" fill-opacity="0.12" filter="url(#b3)"/>
<rect x="626.0" y="732.7" width="20.0" height="4.0" rx="2.0" fill="#111" fill-opacity="0.15" filter="url(#b3)"/>
<rect x="626.0" y="744.1" width="20.0" height="5.0" rx="2.5" fill="#111" fill-opacity="0.15" filter="url(#b3)"/>
<rect x="718.0" y="732.8" width="18.0" height="2.5" rx="1.2" fill="#111" fill-opacity="0.1" filter="url(#b1)"/>
<path d="M847,717.5H862.7" stroke="#111" stroke-width="1.3"/><path d="M844.2,717.5L850.5,714.6L849.3,717.5L850.5,720.4Z" fill="#111"/>
<rect x="565.0" y="778.5" width="22.0" height="6.0" rx="3.0" fill="#111" fill-opacity="1" filter="url(#b1)"/>
<rect x="595.0" y="777.0" width="23.0" height="9.0" rx="4.5" fill="#111" fill-opacity="1" filter="url(#b1)"/>
<rect x="626.0" y="777.5" width="23.0" height="8.0" rx="4.0" fill="#111" fill-opacity="1" filter="url(#b1)"/>
<rect x="657.0" y="777.5" width="24.0" height="8.0" rx="4.0" fill="#111" fill-opacity="1" filter="url(#b1)"/>
<rect x="687.0" y="777.2" width="22.0" height="3.5" rx="1.8" fill="#111" fill-opacity="0.8" filter="url(#b1)"/>
<rect x="720.5" y="777.2" width="21.0" height="3.5" rx="1.8" fill="#111" fill-opacity="0.75" filter="url(#b1)"/>
<rect x="752.5" y="776.5" width="20.0" height="5.0" rx="2.5" fill="#111" fill-opacity="0.6" filter="url(#b1)"/>
<rect x="784.5" y="775.6" width="21.0" height="6.0" rx="3.0" fill="#111" fill-opacity="1" filter="url(#b1)"/>
<rect x="657" y="787" width="27" height="18" rx="8" fill="#111" fill-opacity="1" filter="url(#b2)"/>
<rect x="658.5" y="805.2" width="22.0" height="6.0" rx="3.0" fill="#111" fill-opacity="0.5" filter="url(#b3)"/>
<rect x="660.0" y="768.8" width="18.0" height="3.0" rx="1.5" fill="#111" fill-opacity="0.3" filter="url(#b1)"/>
<rect x="751.4" y="787.3" width="26" height="13" rx="6" fill="#111" filter="url(#b1)"/>
<rect x="782.6" y="787.6" width="25" height="12" rx="6" fill="#111" filter="url(#b1)"/>
<rect x="595.5" y="793.8" width="22.0" height="5.0" rx="2.5" fill="#111" fill-opacity="0.75" filter="url(#b1)"/>
<rect x="626.5" y="793.8" width="22.0" height="5.0" rx="2.5" fill="#111" fill-opacity="0.7" filter="url(#b1)"/>
<rect x="722.0" y="792.6" width="22.0" height="4.0" rx="2.0" fill="#111" fill-opacity="0.6" filter="url(#b1)"/>
<rect x="566.0" y="794.3" width="20.0" height="4.0" rx="2.0" fill="#111" fill-opacity="0.12" filter="url(#b3)"/>
<rect x="565.5" y="805.2" width="21.0" height="6.0" rx="3.0" fill="#111" fill-opacity="0.15" filter="url(#b3)"/>
<rect x="596.0" y="805.2" width="21.0" height="6.0" rx="3.0" fill="#111" fill-opacity="0.2" filter="url(#b3)"/>
<rect x="627.0" y="805.2" width="21.0" height="6.0" rx="3.0" fill="#111" fill-opacity="0.55" filter="url(#b3)"/>
<rect x="722.5" y="805.2" width="21.0" height="6.0" rx="3.0" fill="#111" fill-opacity="0.2" filter="url(#b3)"/>
<rect x="753.5" y="805.2" width="21.0" height="6.0" rx="3.0" fill="#111" fill-opacity="0.3" filter="url(#b3)"/>
<rect x="784.5" y="805.2" width="21.0" height="6.0" rx="3.0" fill="#111" fill-opacity="0.3" filter="url(#b3)"/>
<rect x="826.5" y="790.0" width="11.0" height="7.0" rx="3.5" fill="#111" fill-opacity="1" filter="url(#b1)"/>
<path d="M819,798.5L830,795" stroke="#111" stroke-width="1.5" stroke-opacity=".6" filter="url(#b1)"/>
<text x="671.7" y="844.5" font-size="38" text-anchor="middle" font-weight="bold" fill="#111" stroke="#111">*</text>
<text x="766.9" y="844.5" font-size="38" text-anchor="middle" font-weight="bold" fill="#111" stroke="#111">*</text>
<text x="796.5" y="844.5" font-size="38" text-anchor="middle" font-weight="bold" fill="#111" stroke="#111">*</text>
<text x="9" y="899" font-size="31" font-weight="bold" stroke="#000">E</text>
<text x="45.1" y="942.4" font-size="16" font-style="italic" fill="#222" textLength="38" lengthAdjust="spacingAndGlyphs" stroke="#222">TP73</text>
<text x="116.3" y="904.4" font-size="15" fill="#222" textLength="174.6" lengthAdjust="spacingAndGlyphs" stroke="#222">P1(<tspan font-style="italic">TP73-TA</tspan>) P2(<tspan font-style="italic">TP73-dN</tspan>)</text>
<path d="M115.8,927V913.9H135M202.3,927V913.9H221" stroke="#222" stroke-width="1.2" fill="none"/>
<path d="M134,910.2L142.6,913.9L134,917.6Z M219.6,910.2L228.2,913.9L219.6,917.6Z" fill="#222"/>
<path d="M484.6,927.2L497.7,906.1L537.7,927.2 M484.6,927.2L517.5,906.1L578.9,927.2 M484.6,927.2L562.6,906.1L605.3,927.2 M553.9,927.2L590.3,906.1L605.3,927.2 M484.6,943.3L538.5,979.2 M555,979.2L605.3,943.3" stroke="#333" stroke-width="1.1" fill="none" stroke-dasharray="2.2,1.8"/>
<path d="M99.5,936H737" stroke="#333" stroke-width="1.3"/>
<rect x="115.8" y="927.2" width="16.0" height="16.2" fill="#fff" stroke="#444" stroke-width="1"/>
<rect x="115.8" y="927.2" width="16.0" height="16.2" fill="#8e8e8e" stroke="#444" stroke-width="1"/>
<rect x="142.9" y="927.2" width="11.9" height="16.2" fill="#fff" stroke="#444" stroke-width="1"/>
<rect x="142.9" y="927.2" width="5.5" height="16.2" fill="#8e8e8e" stroke="#444" stroke-width="1"/>
<rect x="168.5" y="927.2" width="13.8" height="16.2" fill="#fff" stroke="#444" stroke-width="1"/>
<rect x="202.3" y="927.2" width="23.7" height="16.2" fill="#fff" stroke="#444" stroke-width="1"/>
<rect x="202.3" y="927.2" width="18.0" height="16.2" fill="#8e8e8e" stroke="#444" stroke-width="1"/>
<rect x="250.2" y="927.2" width="23.7" height="16.2" fill="#fff" stroke="#444" stroke-width="1"/>
<rect x="288.8" y="927.2" width="17.8" height="16.2" fill="#fff" stroke="#444" stroke-width="1"/>
<rect x="325.5" y="927.2" width="16.7" height="16.2" fill="#fff" stroke="#444" stroke-width="1"/>
<rect x="362" y="927.2" width="16.4" height="16.2" fill="#fff" stroke="#444" stroke-width="1"/>
<rect x="394.1" y="927.2" width="17.8" height="16.2" fill="#fff" stroke="#444" stroke-width="1"/>
<rect x="430.9" y="927.2" width="16.6" height="16.2" fill="#fff" stroke="#444" stroke-width="1"/>
<rect x="466.5" y="927.2" width="18.1" height="16.2" fill="#fff" stroke="#444" stroke-width="1"/>
<rect x="503.8" y="927.2" width="16.9" height="16.2" fill="#fff" stroke="#444" stroke-width="1"/>
<rect x="537.7" y="927.2" width="16.2" height="16.2" fill="#fff" stroke="#444" stroke-width="1"/>
<rect x="578.9" y="927.2" width="10.7" height="16.2" fill="#fff" stroke="#444" stroke-width="1"/>
<rect x="605.2" y="927.2" width="73.2" height="16.2" fill="#fff" stroke="#444" stroke-width="1"/>
<rect x="614.4" y="927.2" width="64" height="16.2" fill="#8e8e8e" stroke="#444" stroke-width="1"/>
<rect x="538.5" y="979.2" width="16.5" height="15.8" fill="#fff" stroke="#444" stroke-width="1"/>
<text x="123" y="955" font-size="14.5" text-anchor="middle" fill="#222" stroke="#222">1</text>
<text x="148.4" y="955" font-size="14.5" text-anchor="middle" fill="#222" stroke="#222">2</text>
<text x="175.2" y="955" font-size="14.5" text-anchor="middle" fill="#222" stroke="#222">3</text>
<text x="213.7" y="955" font-size="14.5" text-anchor="middle" fill="#222" stroke="#222">3’</text>
<text x="261.2" y="955" font-size="14.5" text-anchor="middle" fill="#222" stroke="#222">4</text>
<text x="295.9" y="955" font-size="14.5" text-anchor="middle" fill="#222" stroke="#222">5</text>
<text x="333.9" y="955" font-size="14.5" text-anchor="middle" fill="#222" stroke="#222">6</text>
<text x="369.5" y="955" font-size="14.5" text-anchor="middle" fill="#222" stroke="#222">7</text>
<text x="402.1" y="955" font-size="14.5" text-anchor="middle" fill="#222" stroke="#222">8</text>
<text x="437.7" y="955" font-size="14.5" text-anchor="middle" fill="#222" stroke="#222">9</text>
<text x="474.8" y="955" font-size="14.5" text-anchor="middle" fill="#222" stroke="#222">10</text>
<text x="511.9" y="955" font-size="14.5" text-anchor="middle" fill="#222" stroke="#222">11</text>
<text x="544.8" y="955" font-size="14.5" text-anchor="middle" fill="#222" stroke="#222">12</text>
<text x="584.1" y="955" font-size="14.5" text-anchor="middle" fill="#222" stroke="#222">13</text>
<text x="639.8" y="955" font-size="14.5" text-anchor="middle" fill="#222" stroke="#222">14</text>
<text x="497.4" y="901.7" font-size="15" text-anchor="middle" fill="#222" stroke="#222">γ</text>
<text x="517" y="901.7" font-size="15" text-anchor="middle" fill="#222" stroke="#222">ζ</text>
<text x="562.9" y="901.7" font-size="15" text-anchor="middle" fill="#222" stroke="#222">δ</text>
<text x="593" y="901.7" font-size="15" text-anchor="middle" fill="#222" stroke="#222">β</text>
<text x="546.1" y="1006.5" font-size="15" text-anchor="middle" fill="#222" stroke="#222">ε</text>
<text x="743.3" y="941.5" font-size="15" text-anchor="middle" fill="#222" stroke="#222">α</text>
<rect x="153.1" y="960.2" width="28.5" height="10" fill="#111"/>
<text x="166.4" y="986.3" font-size="14.5" text-anchor="middle" fill="#222" textLength="23.4" lengthAdjust="spacingAndGlyphs" stroke="#222">TAD</text>
<defs><linearGradient id="gta" x1="0" x2="1"><stop offset="0" stop-color="#fff"/><stop offset="1" stop-color="#eb5767"/></linearGradient><linearGradient id="gdn" x1="0" x2="1"><stop offset="0" stop-color="#fff"/><stop offset="1" stop-color="#f9b017"/></linearGradient></defs>
<rect x="859.3" y="922.8" width="126.1" height="14.9" fill="url(#gta)"/>
<rect x="859.3" y="944.1" width="126.1" height="15.9" fill="url(#gdn)"/>
<text x="853.1" y="921" font-size="14" fill="#222" stroke="#222">0</text>
<text x="985.4" y="921" font-size="14" text-anchor="end" fill="#222" textLength="22.4" lengthAdjust="spacingAndGlyphs" stroke="#222">100</text>
<text x="775.4" y="934.2" font-size="14.5" fill="#222" textLength="75.2" lengthAdjust="spacingAndGlyphs" stroke="#222">TA isoforms</text>
<text x="776.1" y="956.5" font-size="14.5" fill="#222" textLength="78.2" lengthAdjust="spacingAndGlyphs" stroke="#222">dN isoforms</text>
<text x="871.2" y="969.9" font-size="14.5" fill="#222" textLength="86.2" lengthAdjust="spacingAndGlyphs" stroke="#222">% expression</text>
<text transform="translate(340.1,1089.8) rotate(-90)" font-size="15.5" fill="#111" stroke="#111">HS766T</text>
<text transform="translate(357.8,1089.8) rotate(-90)" font-size="15.5" fill="#111" stroke="#111">SUIT2</text>
<text transform="translate(375.5,1089.8) rotate(-90)" font-size="15.5" fill="#111" stroke="#111">L33</text>
<text transform="translate(393.1,1089.8) rotate(-90)" font-size="15.5" fill="#111" stroke="#111">KP2</text>
<text transform="translate(410.8,1089.8) rotate(-90)" font-size="15.5" fill="#111" stroke="#111">KP4</text>
<text transform="translate(428.5,1089.8) rotate(-90)" font-size="15.5" fill="#111" stroke="#111">CAPAN1</text>
<text transform="translate(446.2,1089.8) rotate(-90)" font-size="15.5" fill="#111" stroke="#111">QGP1</text>
<text transform="translate(463.9,1089.8) rotate(-90)" font-size="15.5" fill="#111" stroke="#111">PATU8988T</text>
<text transform="translate(481.5,1089.8) rotate(-90)" font-size="15.5" fill="#111" stroke="#111">YAPC</text>
<text transform="translate(499.2,1089.8) rotate(-90)" font-size="15.5" fill="#111" stroke="#111">PATU8988S</text>
<text transform="translate(516.9,1089.8) rotate(-90)" font-size="15.5" fill="#111" stroke="#111">PANC1005</text>
<text transform="translate(534.6,1089.8) rotate(-90)" font-size="15.5" fill="#111" stroke="#111">HPAC</text>
<text transform="translate(552.3,1089.8) rotate(-90)" font-size="15.5" fill="#111" stroke="#111">BXPC3</text>
<text transform="translate(569.9,1089.8) rotate(-90)" font-size="15.5" fill="#111" stroke="#111">PANC0813</text>
<text transform="translate(587.6,1089.8) rotate(-90)" font-size="15.5" fill="#111" stroke="#111">PATU8902</text>
<text transform="translate(605.3,1089.8) rotate(-90)" font-size="15.5" fill="#111" stroke="#111">SNU410</text>
<text transform="translate(623.0,1089.8) rotate(-90)" font-size="15.5" fill="#111" stroke="#111">CAPAN2</text>
<text transform="translate(640.7,1089.8) rotate(-90)" font-size="15.5" fill="#111" stroke="#111">HUPT3</text>
<text transform="translate(658.3,1089.8) rotate(-90)" font-size="15.5" fill="#111" stroke="#111">SNU213</text>
<text transform="translate(676.0,1089.8) rotate(-90)" font-size="15.5" fill="#111" stroke="#111">DANG</text>
<text transform="translate(693.7,1089.8) rotate(-90)" font-size="15.5" fill="#111" stroke="#111">HPAF2</text>
<text transform="translate(711.4,1089.8) rotate(-90)" font-size="15.5" fill="#111" stroke="#111">PANC0403</text>
<text transform="translate(729.1,1089.8) rotate(-90)" font-size="15.5" fill="#111" stroke="#111">PK45H</text>
<text transform="translate(746.7,1089.8) rotate(-90)" font-size="15.5" fill="#111" stroke="#111">TCCPAN2</text>
<text transform="translate(764.4,1089.8) rotate(-90)" font-size="15.5" fill="#111" stroke="#111">MIAPACA2</text>
<text transform="translate(782.1,1089.8) rotate(-90)" font-size="15.5" fill="#111" stroke="#111">PANC0504</text>
<text transform="translate(799.8,1089.8) rotate(-90)" font-size="15.5" fill="#111" stroke="#111">HUPT4</text>
<text transform="translate(817.5,1089.8) rotate(-90)" font-size="15.5" fill="#111" stroke="#111">KP3</text>
<text transform="translate(835.1,1089.8) rotate(-90)" font-size="15.5" fill="#111" stroke="#111">T3M4</text>
<text transform="translate(852.8,1089.8) rotate(-90)" font-size="15.5" fill="#111" stroke="#111">PANC1</text>
<text transform="translate(870.5,1089.8) rotate(-90)" font-size="15.5" fill="#111" stroke="#111">PK59</text>
<rect x="326.9" y="1094.2" width="548.1" height="170.5" fill="#fdfbfc"/>
<rect x="326.90" y="1094.20" width="17.98" height="13.90" fill="#fbeaec"/>
<rect x="344.58" y="1094.20" width="17.98" height="13.90" fill="#ee6470"/>
<rect x="362.26" y="1094.20" width="17.98" height="13.90" fill="#f4b4bb"/>
<rect x="379.94" y="1094.20" width="17.98" height="13.90" fill="#f08a93"/>
<rect x="397.62" y="1094.20" width="17.98" height="13.90" fill="#f08a93"/>
<rect x="415.30" y="1094.20" width="17.98" height="13.90" fill="#f29aa2"/>
<rect x="432.98" y="1094.20" width="17.98" height="13.90" fill="#ef7a85"/>
<rect x="450.66" y="1094.20" width="17.98" height="13.90" fill="#ee7580"/>
<rect x="468.34" y="1094.20" width="17.98" height="13.90" fill="#ec626e"/>
<rect x="486.02" y="1094.20" width="17.98" height="13.90" fill="#ef7f89"/>
<rect x="503.70" y="1094.20" width="17.98" height="13.90" fill="#ef7c86"/>
<rect x="521.38" y="1094.20" width="17.98" height="13.90" fill="#f5a9b0"/>
<rect x="539.06" y="1094.20" width="17.98" height="13.90" fill="#ef7880"/>
<rect x="556.74" y="1094.20" width="17.98" height="13.90" fill="#ee6e79"/>
<rect x="574.42" y="1094.20" width="17.98" height="13.90" fill="#ee707a"/>
<rect x="592.10" y="1094.20" width="17.98" height="13.90" fill="#ef7580"/>
<rect x="609.78" y="1094.20" width="17.98" height="13.90" fill="#ee6e78"/>
<rect x="627.46" y="1094.20" width="17.98" height="13.90" fill="#f07d87"/>
<rect x="645.14" y="1094.20" width="17.98" height="13.90" fill="#f07d87"/>
<rect x="662.82" y="1094.20" width="17.98" height="13.90" fill="#ec5e6a"/>
<rect x="680.50" y="1094.20" width="17.98" height="13.90" fill="#f28f98"/>
<rect x="698.18" y="1094.20" width="17.98" height="13.90" fill="#f08890"/>
<rect x="715.86" y="1094.20" width="17.98" height="13.90" fill="#ef838c"/>
<rect x="733.54" y="1094.20" width="17.98" height="13.90" fill="#ee7680"/>
<rect x="751.22" y="1094.20" width="17.98" height="13.90" fill="#f7b5bb"/>
<rect x="768.90" y="1094.20" width="17.98" height="13.90" fill="#ec6470"/>
<rect x="786.58" y="1094.20" width="17.98" height="13.90" fill="#f0848d"/>
<rect x="804.26" y="1094.20" width="17.98" height="13.90" fill="#f0868f"/>
<rect x="821.94" y="1094.20" width="17.98" height="13.90" fill="#f6aeb4"/>
<rect x="839.62" y="1094.20" width="17.98" height="13.90" fill="#f08890"/>
<rect x="857.30" y="1094.20" width="17.98" height="13.90" fill="#f08890"/>
<rect x="326.90" y="1107.80" width="17.98" height="16.00" fill="#fbc93a"/>
<rect x="362.26" y="1107.80" width="17.98" height="16.00" fill="#fad46a"/>
<rect x="379.94" y="1107.80" width="17.98" height="16.00" fill="#fdf6e4"/>
<rect x="592.10" y="1107.80" width="17.98" height="16.00" fill="#fef8ec"/>
<rect x="680.50" y="1107.80" width="17.98" height="16.00" fill="#fef9ee"/>
<rect x="733.54" y="1107.80" width="17.98" height="16.00" fill="#fbefbe"/>
<rect x="751.22" y="1107.80" width="17.98" height="16.00" fill="#f9e59d"/>
<rect x="821.94" y="1107.80" width="17.98" height="16.00" fill="#f9e390"/>
<rect x="326.90" y="1123.50" width="17.98" height="16.20" fill="#fdf5f6"/>
<rect x="379.94" y="1123.50" width="17.98" height="16.20" fill="#fbe2e6"/>
<rect x="397.62" y="1123.50" width="17.98" height="16.20" fill="#fdf2f4"/>
<rect x="415.30" y="1123.50" width="17.98" height="16.20" fill="#f9c9cf"/>
<rect x="432.98" y="1123.50" width="17.98" height="16.20" fill="#fce5e8"/>
<rect x="450.66" y="1123.50" width="17.98" height="16.20" fill="#fdf1f3"/>
<rect x="486.02" y="1123.50" width="17.98" height="16.20" fill="#fce7ea"/>
<rect x="503.70" y="1123.50" width="17.98" height="16.20" fill="#fce4e7"/>
<rect x="521.38" y="1123.50" width="17.98" height="16.20" fill="#f9cdd2"/>
<rect x="627.46" y="1123.50" width="17.98" height="16.20" fill="#fdf3f4"/>
<rect x="680.50" y="1123.50" width="17.98" height="16.20" fill="#fce6e9"/>
<rect x="698.18" y="1123.50" width="17.98" height="16.20" fill="#fbe2e6"/>
<rect x="715.86" y="1123.50" width="17.98" height="16.20" fill="#fdeef0"/>
<rect x="751.22" y="1123.50" width="17.98" height="16.20" fill="#f7c0c7"/>
<rect x="786.58" y="1123.50" width="17.98" height="16.20" fill="#fdf3f4"/>
<rect x="804.26" y="1123.50" width="17.98" height="16.20" fill="#fce2e6"/>
<rect x="839.62" y="1123.50" width="17.98" height="16.20" fill="#fce9ec"/>
<rect x="857.30" y="1123.50" width="17.98" height="16.20" fill="#fad6db"/>
<rect x="326.90" y="1139.40" width="17.98" height="15.80" fill="#fcecee"/>
<rect x="397.62" y="1139.40" width="17.98" height="15.80" fill="#fbe6e9"/>
<rect x="415.30" y="1139.40" width="17.98" height="15.80" fill="#fdf3f5"/>
<rect x="486.02" y="1139.40" width="17.98" height="15.80" fill="#fdf5f6"/>
<rect x="556.74" y="1139.40" width="17.98" height="15.80" fill="#fdf1f3"/>
<rect x="627.46" y="1139.40" width="17.98" height="15.80" fill="#fbe4e7"/>
<rect x="645.14" y="1139.40" width="17.98" height="15.80" fill="#fbe4e7"/>
<rect x="680.50" y="1139.40" width="17.98" height="15.80" fill="#fef6f7"/>
<rect x="715.86" y="1139.40" width="17.98" height="15.80" fill="#fdeef0"/>
<rect x="821.94" y="1139.40" width="17.98" height="15.80" fill="#fad9dd"/>
<rect x="839.62" y="1139.40" width="17.98" height="15.80" fill="#fad9dd"/>
<rect x="397.62" y="1154.90" width="17.98" height="15.70" fill="#fce8eb"/>
<rect x="486.02" y="1154.90" width="17.98" height="15.70" fill="#fdf4f5"/>
<rect x="521.38" y="1154.90" width="17.98" height="15.70" fill="#fbdde1"/>
<rect x="574.42" y="1154.90" width="17.98" height="15.70" fill="#fdf0f2"/>
<rect x="609.78" y="1154.90" width="17.98" height="15.70" fill="#fdf4f5"/>
<rect x="680.50" y="1154.90" width="17.98" height="15.70" fill="#fdf0f2"/>
<rect x="698.18" y="1154.90" width="17.98" height="15.70" fill="#fdf0f2"/>
<rect x="715.86" y="1154.90" width="17.98" height="15.70" fill="#fef5f6"/>
<rect x="768.90" y="1154.90" width="17.98" height="15.70" fill="#fdf0f2"/>
<rect x="786.58" y="1154.90" width="17.98" height="15.70" fill="#fbe0e4"/>
<rect x="804.26" y="1154.90" width="17.98" height="15.70" fill="#fce9ec"/>
<rect x="857.30" y="1154.90" width="17.98" height="15.70" fill="#fef6f7"/>
<rect x="362.26" y="1170.30" width="17.98" height="15.80" fill="#fdf1f3"/>
<rect x="450.66" y="1170.30" width="17.98" height="15.80" fill="#fdf6f7"/>
<rect x="539.06" y="1170.30" width="17.98" height="15.80" fill="#fdf1f3"/>
<rect x="698.18" y="1170.30" width="17.98" height="15.80" fill="#fef7f8"/>
<rect x="539.06" y="1201.30" width="17.98" height="15.80" fill="#fef6e6"/>
<text x="104.7" y="1104.5" font-size="15" font-style="italic" fill="#222" stroke="#222">TP73-TAα</text>
<text x="190.6" y="1104.5" font-size="14.5" fill="#222" textLength="133" lengthAdjust="spacingAndGlyphs" stroke="#222">ENST00000378295.4</text>
<text x="104.7" y="1119.38" font-size="15" font-style="italic" fill="#222" stroke="#222">TP73-dNα</text>
<text x="190.6" y="1119.38" font-size="14.5" fill="#222" textLength="133" lengthAdjust="spacingAndGlyphs" stroke="#222">ENST00000378288.4</text>
<text x="104.7" y="1134.26" font-size="15" font-style="italic" fill="#222" stroke="#222">TP73-TAδ</text>
<text x="190.6" y="1134.26" font-size="14.5" fill="#222" textLength="133" lengthAdjust="spacingAndGlyphs" stroke="#222">ENST00000604074.1</text>
<text x="104.7" y="1149.14" font-size="15" font-style="italic" fill="#222" stroke="#222">TP73-TAβ</text>
<text x="190.6" y="1149.14" font-size="14.5" fill="#222" textLength="133" lengthAdjust="spacingAndGlyphs" stroke="#222">ENST00000354437.4</text>
<text x="104.7" y="1164.02" font-size="15" font-style="italic" fill="#222" stroke="#222">dExon1-ε’</text>
<text x="190.6" y="1164.02" font-size="14.5" fill="#222" textLength="133" lengthAdjust="spacingAndGlyphs" stroke="#222">ENST00000603362.1</text>
<text x="104.7" y="1178.9" font-size="15" font-style="italic" fill="#222" stroke="#222">TP73-TAε</text>
<text x="190.6" y="1178.9" font-size="14.5" fill="#222" textLength="133" lengthAdjust="spacingAndGlyphs" stroke="#222">ENST00000357733.3</text>
<text x="104.7" y="1193.78" font-size="15" font-style="italic" fill="#222" stroke="#222">TP73-dN’α</text>
<text x="190.6" y="1193.78" font-size="14.5" fill="#222" textLength="133" lengthAdjust="spacingAndGlyphs" stroke="#222">ENST00000378290.4</text>
<text x="104.7" y="1208.66" font-size="15" font-style="italic" fill="#222" stroke="#222">TP73-dNγ</text>
<text x="190.6" y="1208.66" font-size="14.5" fill="#222" textLength="133" lengthAdjust="spacingAndGlyphs" stroke="#222">ENST00000378280.1</text>
<text x="104.7" y="1223.54" font-size="15" font-style="italic" fill="#222" stroke="#222">TP73-TAζ</text>
<text x="190.6" y="1223.54" font-size="14.5" fill="#222" textLength="133" lengthAdjust="spacingAndGlyphs" stroke="#222">ENST00000346387.4</text>
<text x="104.7" y="1238.42" font-size="15" font-style="italic" fill="#222" stroke="#222">dExon1-ζ’</text>
<text x="190.6" y="1238.42" font-size="14.5" fill="#222" textLength="133" lengthAdjust="spacingAndGlyphs" stroke="#222">ENST00000604479.1</text>
<text x="104.7" y="1253.3" font-size="15" font-style="italic" fill="#222" stroke="#222">TP73-dNβ</text>
<text x="190.6" y="1253.3" font-size="14.5" fill="#222" textLength="133" lengthAdjust="spacingAndGlyphs" stroke="#222">ENST00000378285.1</text>
<text x="598.4" y="1275.2" font-size="14.5" text-anchor="middle" fill="#222" textLength="319.2" lengthAdjust="spacingAndGlyphs" stroke="#222">CCLE_RNAseq_rsem_transcripts_tpm_20180929</text>
</svg></body></html>
